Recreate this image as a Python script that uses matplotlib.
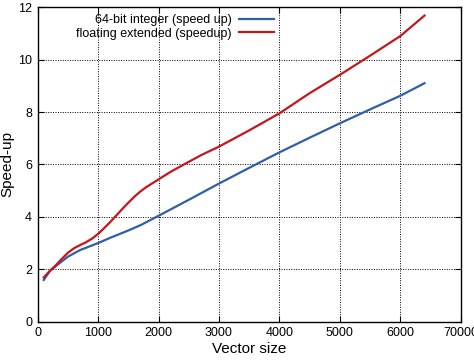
import matplotlib
matplotlib.use("Agg")
import matplotlib.pyplot as plt

plt.rcParams['font.family'] = ['Liberation Sans', 'DejaVu Sans']

int_x = [100, 200, 300, 500, 700, 1000, 1200, 1500, 1700, 2000, 2500, 3000, 3500,
         4000, 4500, 5000, 5500, 6000, 6400]
int_y = [1.59, 1.93, 2.12, 2.48, 2.73, 3.0, 3.2, 3.48, 3.68, 4.04, 4.65, 5.27, 5.87,
         6.46, 7.02, 7.57, 8.1, 8.62, 9.1]

flt_x = [100, 200, 300, 400, 500, 600, 700, 800, 900, 1000, 1100, 1200, 1300, 1400,
         1500, 1600, 1700, 1800, 2000, 2200, 2500, 2700, 3000, 3500, 4000, 4500,
         5000, 5500, 6000, 6400]
flt_y = [1.69, 1.93, 2.15, 2.4, 2.63, 2.8, 2.92, 3.03, 3.17, 3.35, 3.57, 3.8, 4.05,
         4.3, 4.54, 4.77, 4.97, 5.14, 5.43, 5.72, 6.1, 6.35, 6.68, 7.3, 7.95, 8.72,
         9.42, 10.15, 10.9, 11.68]

xticks = [0, 1000, 2000, 3000, 4000, 5000, 6000, 7000]
xticklabels = ['0', '1000', '2000', '3000', '4000', '5000', '6000', '70000']
yticks = [0, 2, 4, 6, 8, 10, 12]

fig = plt.figure(figsize=(4.74, 3.61), dpi=100)
ax = fig.add_axes([0.0795, 0.109, 0.8925, 0.871])

ax.plot(int_x, int_y, color='#2f5fa8', lw=1.6, label='64-bit integer (speed up)')
ax.plot(flt_x, flt_y, color='#c4161c', lw=1.6, label='floating extended (speedup)')

ax.set_xlim(0, 7000)
ax.set_ylim(0, 12)
ax.set_xticks(xticks)
ax.set_xticklabels(xticklabels)
ax.set_yticks(yticks)
ax.tick_params(direction='in', top=True, right=True, length=4, width=0.8,
               labelsize=9, pad=4)
ax.grid(True, color='black', linestyle=(0, (1, 1.5)), linewidth=0.7)
for s in ax.spines.values():
    s.set_linewidth(1.0)

ax.set_xlabel('Vector size', fontsize=11, labelpad=2)
ax.set_ylabel('Speed-up', fontsize=11, labelpad=3)

leg = ax.legend(loc='upper left', bbox_to_anchor=(0.071, 1.005), frameon=False,
                markerfirst=False, fontsize=9, handlelength=2.8,
                handletextpad=0.6, labelspacing=0.1, borderaxespad=0.3)
for t in leg.get_texts():
    t.set_ha('right')
leg._legend_box.align = 'right'

fig.savefig('out.png', dpi=100)
